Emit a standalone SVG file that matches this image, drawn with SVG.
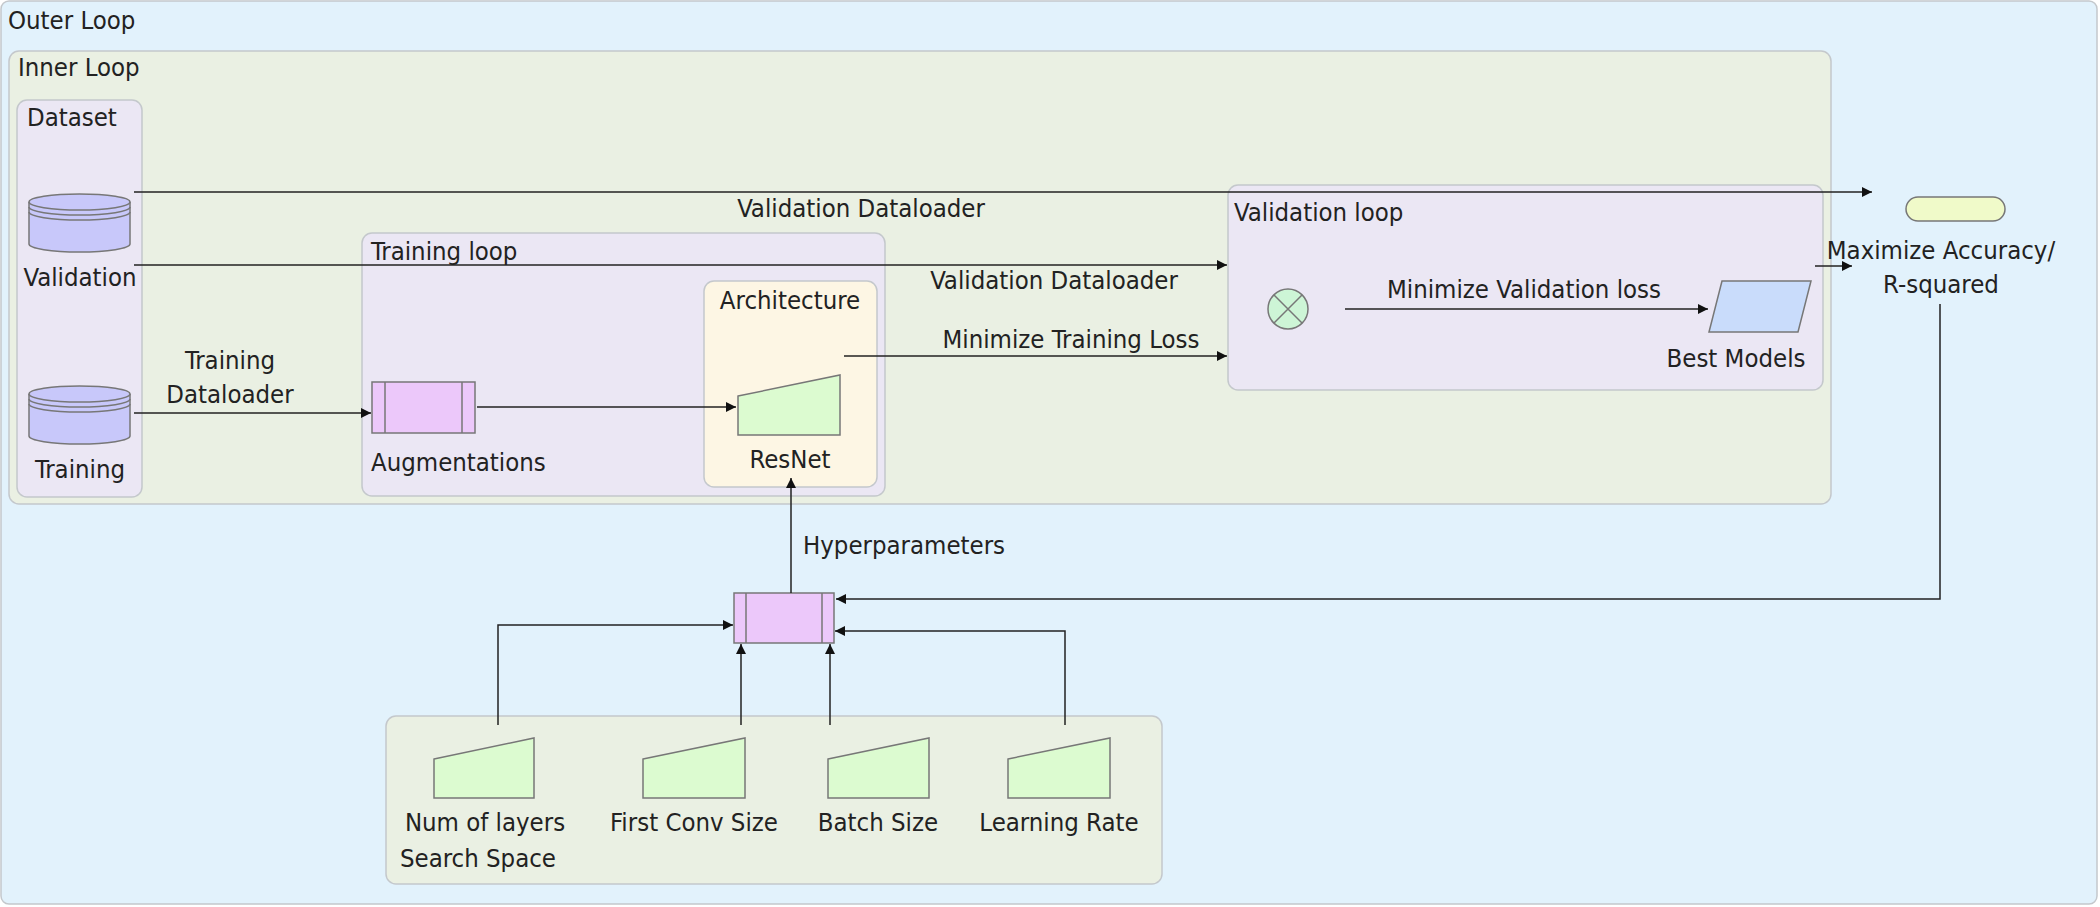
<svg xmlns="http://www.w3.org/2000/svg" width="2100" height="907" viewBox="0 0 2100 907">
<defs>
<marker id="ah" viewBox="0 0 10 10" refX="10" refY="5" markerWidth="10" markerHeight="10" markerUnits="userSpaceOnUse" orient="auto"><path d="M0,0 L10,5 L0,10 z" fill="#111"/></marker>
<style>
text{font-family:"DejaVu Sans Condensed","DejaVu Sans",sans-serif;font-size:25.5px;fill:#222}
.grp{stroke:#c4c8cc;stroke-width:1.5}
.sh{stroke:#777;stroke-width:1.5}
.c{fill:none;stroke:#222;stroke-width:1.5;marker-end:url(#ah)}
.m{text-anchor:middle}
</style>
</defs>
<g id="outer"><rect x="1" y="1" width="2096" height="903" rx="8" fill="#e2f2fc" class="grp"/><text x="8" y="29">Outer Loop</text></g>
<g id="inner"><rect x="9" y="51" width="1822" height="453" rx="10" fill="#eaf0e3" class="grp"/><text x="18" y="76">Inner Loop</text></g>
<g id="dataset"><rect x="17" y="100" width="125" height="397" rx="10" fill="#ebe7f4" class="grp"/><text x="27" y="126">Dataset</text></g>
<g id="trainingloop"><rect x="362" y="233" width="523" height="263" rx="10" fill="#ebe7f4" class="grp"/><text x="371" y="260">Training loop</text></g>
<g id="architecture"><rect x="704" y="281" width="173" height="206" rx="10" fill="#fdf6e4" class="grp"/><text x="790" y="309" class="m">Architecture</text></g>
<g id="validationloop"><rect x="1228" y="185" width="595" height="205" rx="10" fill="#ebe7f4" class="grp"/><text x="1234" y="221">Validation loop</text></g>
<g id="searchspace"><rect x="386" y="716" width="776" height="168" rx="10" fill="#eaf0e3" class="grp"/></g>

<g id="validation">
<path d="M29,202 v42 a50,8 0 0 0 101,0 v-42" fill="#c8c8fa" class="sh"/>
<ellipse cx="79.5" cy="202" rx="50.5" ry="8" fill="#c8c8fa" class="sh"/>
<path d="M29,207 a50.5,8 0 0 0 101,0 M29,212 a50.5,8 0 0 0 101,0" fill="none" class="sh"/>
<text x="80" y="286" class="m">Validation</text></g>
<g id="training">
<path d="M29,394 v42 a50,8 0 0 0 101,0 v-42" fill="#c8c8fa" class="sh"/>
<ellipse cx="79.5" cy="394" rx="50.5" ry="8" fill="#c8c8fa" class="sh"/>
<path d="M29,399 a50.5,8 0 0 0 101,0 M29,404 a50.5,8 0 0 0 101,0" fill="none" class="sh"/>
<text x="80" y="478" class="m">Training</text></g>
<g id="augmentations"><rect x="372" y="382" width="103" height="51" fill="#ecc8fa" class="sh"/><path d="M385,382 v51 M462,382 v51" class="sh"/><text x="371" y="471">Augmentations</text></g>
<g id="resnet"><path d="M738,396 L840,375 L840,435 L738,435 Z" fill="#dcfbd0" class="sh"/><text x="790" y="468" class="m">ResNet</text></g>
<g id="xgate"><ellipse cx="1288" cy="309" rx="20" ry="20" fill="#cdf5d6" class="sh"/><path d="M1274,295 L1302,323 M1302,295 L1274,323" class="sh"/></g>
<g id="bestmodels"><path d="M1722,281 L1811,281 L1798,332 L1709,332 Z" fill="#c9dcfb" class="sh"/><text x="1736" y="367" class="m">Best Models</text></g>
<g id="maximize"><rect x="1906" y="197" width="99" height="24" rx="12" fill="#f0fac9" class="sh"/><text x="1941" y="259" class="m">Maximize Accuracy/</text><text x="1941" y="293" class="m">R-squared</text></g>
<g id="hyper"><rect x="734" y="593" width="100" height="50" fill="#ecc8fa" class="sh"/><path d="M746,593 v50 M822,593 v50" class="sh"/></g>
<g id="numlayers"><path d="M434,759 L534,738 L534,798 L434,798 Z" fill="#dcfbd0" class="sh"/><text x="485" y="831" class="m">Num of layers</text><text x="478" y="867" class="m">Search Space</text></g>
<g id="firstconv"><path d="M643,759 L745,738 L745,798 L643,798 Z" fill="#dcfbd0" class="sh"/><text x="694" y="831" class="m">First Conv Size</text></g>
<g id="batch"><path d="M828,759 L929,738 L929,798 L828,798 Z" fill="#dcfbd0" class="sh"/><text x="878" y="831" class="m">Batch Size</text></g>
<g id="lr"><path d="M1008,759 L1110,738 L1110,798 L1008,798 Z" fill="#dcfbd0" class="sh"/><text x="1059" y="831" class="m">Learning Rate</text></g>

<g id="connectors">
<path d="M134,192 H1872" class="c"/>
<text x="861" y="217" class="m">Validation Dataloader</text>
<path d="M134,265 H1227" class="c"/>
<text x="1054" y="289" class="m">Validation Dataloader</text>
<path d="M134,413 H371" class="c"/>
<text x="230" y="369" class="m">Training</text><text x="230" y="403" class="m">Dataloader</text>
<path d="M477,407 H736" class="c"/>
<path d="M844,356 H1227" class="c"/>
<text x="1071" y="348" class="m">Minimize Training Loss</text>
<path d="M1345,309 H1708" class="c"/>
<text x="1524" y="298" class="m">Minimize Validation loss</text>
<path d="M1815,266 H1852" class="c"/>
<path d="M1940,304 V599 H836" class="c"/>
<path d="M791,593 V478" class="c"/>
<text x="803" y="554">Hyperparameters</text>
<path d="M498,725 V625 H733" class="c"/>
<path d="M741,725 V644" class="c"/>
<path d="M830,725 V644" class="c"/>
<path d="M1065,725 V631 H835" class="c"/>
</g>
</svg>
